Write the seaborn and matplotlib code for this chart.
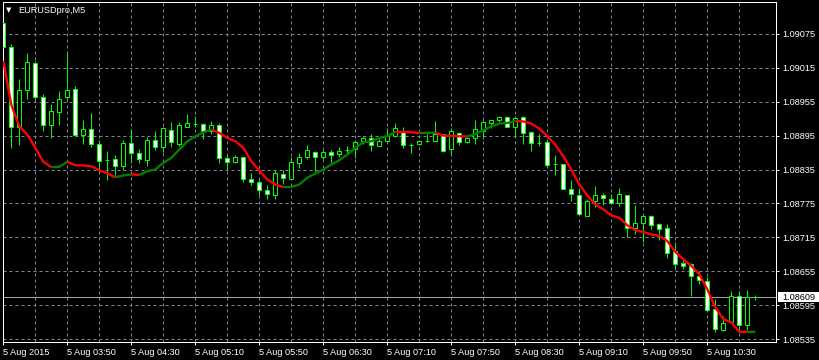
import matplotlib
matplotlib.use("Agg")
import matplotlib.pyplot as plt
import matplotlib.transforms as mtransforms
from matplotlib.patches import Rectangle
import numpy as np
import pandas as pd
import seaborn as sns

# ---------------- data (EURUSDpro, M5, 5 Aug 2015 03:10 .. 11:00) ----------------
symbol_title = "EURUSDpro,M5"

opens = [1.09094, 1.09052, 1.08910, 1.08975, 1.09023, 1.08964, 1.08913, 1.08937, 1.08964, 1.08977,
         1.08896, 1.08906, 1.08880, 1.08851, 1.08854, 1.08842, 1.08882, 1.08864, 1.08851, 1.08887,
         1.08874, 1.08905, 1.08881, 1.08911, 1.08916, 1.08916, 1.08904, 1.08914, 1.08856, 1.08848,
         1.08857, 1.08819, 1.08812, 1.08798, 1.08790, 1.08827, 1.08819, 1.08847, 1.08858, 1.08866,
         1.08857, 1.08866, 1.08863, 1.08869, 1.08872, 1.08885, 1.08891, 1.08877, 1.08885, 1.08894,
         1.08901, 1.08878, 1.08880, 1.08885, 1.08885, 1.08898, 1.08872, 1.08900, 1.08883, 1.08891,
         1.08904, 1.08917, 1.08922, 1.08928, 1.08910, 1.08928, 1.08902, 1.08882, 1.08884, 1.08844,
         1.08844, 1.08801, 1.08790, 1.08753, 1.08779, 1.08789, 1.08782, 1.08776, 1.08789, 1.08732,
         1.08741, 1.08752, 1.08738, 1.08732, 1.08690, 1.08669, 1.08667, 1.08646, 1.08638, 1.08588,
         1.08551, 1.08565, 1.08611, 1.08559, 1.08610]
highs = [1.09100, 1.09057, 1.08996, 1.09042, 1.09027, 1.08969, 1.08951, 1.08974, 1.09042, 1.08983,
         1.08922, 1.08935, 1.08888, 1.08867, 1.08861, 1.08887, 1.08906, 1.08871, 1.08892, 1.08904,
         1.08910, 1.08919, 1.08919, 1.08934, 1.08930, 1.08917, 1.08920, 1.08917, 1.08861, 1.08860,
         1.08858, 1.08828, 1.08817, 1.08808, 1.08835, 1.08834, 1.08858, 1.08864, 1.08878, 1.08867,
         1.08870, 1.08869, 1.08874, 1.08877, 1.08888, 1.08895, 1.08897, 1.08889, 1.08909, 1.08918,
         1.08911, 1.08882, 1.08888, 1.08897, 1.08921, 1.08898, 1.08909, 1.08901, 1.08892, 1.08923,
         1.08923, 1.08923, 1.08929, 1.08929, 1.08929, 1.08929, 1.08904, 1.08897, 1.08889, 1.08860,
         1.08845, 1.08817, 1.08803, 1.08782, 1.08805, 1.08793, 1.08792, 1.08803, 1.08790, 1.08773,
         1.08752, 1.08754, 1.08740, 1.08738, 1.08706, 1.08674, 1.08670, 1.08656, 1.08644, 1.08606,
         1.08576, 1.08620, 1.08620, 1.08622, 1.08613]
lows = [1.08994, 1.08873, 1.08879, 1.08959, 1.08959, 1.08904, 1.08891, 1.08913, 1.08959, 1.08895,
        1.08881, 1.08874, 1.08830, 1.08817, 1.08826, 1.08835, 1.08847, 1.08846, 1.08841, 1.08870,
        1.08866, 1.08875, 1.08876, 1.08910, 1.08911, 1.08889, 1.08898, 1.08846, 1.08835, 1.08846,
        1.08812, 1.08807, 1.08790, 1.08783, 1.08782, 1.08810, 1.08816, 1.08838, 1.08854, 1.08832,
        1.08853, 1.08847, 1.08857, 1.08864, 1.08856, 1.08881, 1.08867, 1.08876, 1.08883, 1.08893,
        1.08873, 1.08864, 1.08879, 1.08883, 1.08883, 1.08866, 1.08862, 1.08879, 1.08882, 1.08880,
        1.08889, 1.08909, 1.08919, 1.08910, 1.08895, 1.08880, 1.08867, 1.08876, 1.08840, 1.08826,
        1.08800, 1.08779, 1.08756, 1.08752, 1.08769, 1.08773, 1.08774, 1.08770, 1.08716, 1.08720,
        1.08706, 1.08729, 1.08711, 1.08679, 1.08660, 1.08659, 1.08611, 1.08632, 1.08584, 1.08548,
        1.08550, 1.08564, 1.08553, 1.08551, 1.08604]
closes = [1.09052, 1.08910, 1.08976, 1.09026, 1.08964, 1.08913, 1.08939, 1.08960, 1.08976, 1.08896,
          1.08907, 1.08880, 1.08850, 1.08851, 1.08842, 1.08882, 1.08864, 1.08854, 1.08888, 1.08874,
          1.08909, 1.08883, 1.08913, 1.08917, 1.08916, 1.08903, 1.08913, 1.08856, 1.08848, 1.08857,
          1.08819, 1.08812, 1.08798, 1.08792, 1.08828, 1.08820, 1.08849, 1.08857, 1.08870, 1.08857,
          1.08866, 1.08860, 1.08867, 1.08869, 1.08884, 1.08891, 1.08878, 1.08886, 1.08895, 1.08909,
          1.08878, 1.08878, 1.08886, 1.08885, 1.08898, 1.08867, 1.08904, 1.08883, 1.08891, 1.08907,
          1.08919, 1.08922, 1.08928, 1.08911, 1.08926, 1.08900, 1.08882, 1.08882, 1.08843, 1.08844,
          1.08801, 1.08792, 1.08757, 1.08779, 1.08789, 1.08785, 1.08775, 1.08791, 1.08732, 1.08740,
          1.08752, 1.08737, 1.08730, 1.08688, 1.08667, 1.08664, 1.08646, 1.08640, 1.08586, 1.08553,
          1.08563, 1.08611, 1.08560, 1.08610, 1.08609]
ma_line = [1.090274, 1.089497, 1.089114, 1.088968, 1.088733, 1.088486, 1.088391, 1.088398, 1.088486, 1.088426,
           1.088421, 1.088408, 1.088338, 1.088279, 1.088214, 1.088244, 1.088262, 1.088253, 1.088320, 1.088350,
           1.088468, 1.088556, 1.088703, 1.088849, 1.088938, 1.089008, 1.089056, 1.088998, 1.088909, 1.088849,
           1.088733, 1.088496, 1.088332, 1.088174, 1.088085, 1.088038, 1.088041, 1.088085, 1.088204, 1.088279,
           1.088350, 1.088438, 1.088514, 1.088615, 1.088733, 1.088832, 1.088849, 1.088909, 1.088938, 1.089015,
           1.089014, 1.089010, 1.088994, 1.088998, 1.089001, 1.088950, 1.088946, 1.088938, 1.088936, 1.088980,
           1.089044, 1.089114, 1.089162, 1.089174, 1.089206, 1.089201, 1.089162, 1.089074, 1.088938, 1.088791,
           1.088585, 1.088350, 1.088085, 1.087891, 1.087732, 1.087644, 1.087538, 1.087498, 1.087362, 1.087279,
           1.087244, 1.087203, 1.087173, 1.087085, 1.086891, 1.086762, 1.086644, 1.086497, 1.086232, 1.085909,
           1.085703, 1.085645, 1.085479, 1.085477, 1.085479]

time_labels = ["5 Aug 2015", "5 Aug 03:50", "5 Aug 04:30", "5 Aug 05:10", "5 Aug 05:50",
               "5 Aug 06:30", "5 Aug 07:10", "5 Aug 07:50", "5 Aug 08:30", "5 Aug 09:10",
               "5 Aug 09:50", "5 Aug 10:30"]
time_label_bars = [0, 8, 16, 24, 32, 40, 48, 56, 64, 72, 80, 88]
price_levels = [1.08535, 1.08595, 1.08655, 1.08715, 1.08775, 1.08835, 1.08895, 1.08955, 1.09015, 1.09075]
current_price = 1.08609

df = pd.DataFrame({"bar": np.arange(len(opens)), "open": opens, "high": highs,
                   "low": lows, "close": closes, "ma": ma_line})

# ---------------- style ----------------
sns.set_style("dark")
plt.rcParams['font.family'] = ['Liberation Sans', 'DejaVu Sans']

W, H = 819, 360
fig = plt.figure(figsize=(W / 100, H / 100), dpi=100, facecolor="black")
ax_l, ax_r, ax_t, ax_b = 2.7, 776.3, 2.3, 342.3
ax = fig.add_axes([ax_l / W, (H - ax_b) / H, (ax_r - ax_l) / W, (ax_b - ax_t) / H])
ax.set_facecolor("black")

bar_px = 8.0
x0_px = 3.3
ax.set_xlim((ax_l - x0_px) / bar_px, (ax_r - x0_px) / bar_px)
ymin, ymax = 1.085292, 1.091309
ax.set_ylim(ymin, ymax)
ppx = (ymax - ymin) / (ax_b - ax_t)

px = 0.72  # one pixel in points
grid_col = "#7b8896"

# grid
for lvl in price_levels:
    ax.axhline(lvl, color=grid_col, lw=px, ls=(0, (3, 3)), zorder=1)
for b in range(4, len(df), 4):
    ax.axvline(b, color=grid_col, lw=px, ls=(0, (3, 3)), zorder=1)

# current price line
ax.axhline(current_price, color="#a6a6a6", lw=px, zorder=1.5)

# candles
lime = "#00ff00"
ax.vlines(df["bar"], df["low"], df["high"], color=lime, lw=px, zorder=2)
body_bottom = np.minimum(df["open"], df["close"])
body_height = np.abs(df["close"] - df["open"])
face = ["white" if c < o else "black" for o, c in zip(df["open"], df["close"])]
ax.bar(df["bar"], body_height, bottom=body_bottom, width=0.5, color=face,
       edgecolor=lime, linewidth=px, zorder=3)

# MA line, coloured by direction
ma = df["ma"].to_numpy()
seg_col = ["red"] + ["#008000" if ma[i] > ma[i - 1] else "#ff0000" for i in range(1, len(ma))]
runs = []
start = 1
for i in range(2, len(ma) + 1):
    if i == len(ma) or seg_col[i] != seg_col[start]:
        runs.append((start - 1, i - 1, seg_col[start]))
        start = i
for a, b, col in runs:
    sub = df.iloc[a:b + 1]
    sns.lineplot(x=sub["bar"].to_numpy(), y=sub["ma"].to_numpy(), color=col, lw=1.7,
                 ax=ax, zorder=4, solid_capstyle="butt", estimator=None, sort=False)

# spines
for s in ax.spines.values():
    s.set_color("white")
    s.set_linewidth(px)
    s.set_visible(True)

# x ticks
ax.set_xticks(time_label_bars)
ax.set_xticklabels(time_labels)
ax.tick_params(axis="x", colors="white", length=3 * px, width=px, direction="out",
               pad=2, labelsize=6.6, bottom=True)
for lbl in ax.get_xticklabels():
    lbl.set_ha("left")
    lbl.set_color("white")

# y ticks on right
ax.yaxis.tick_right()
ax.set_yticks(price_levels)
ax.set_yticklabels([f"{p:.5f}" for p in price_levels])
ax.tick_params(axis="y", colors="white", length=3 * px, width=px, direction="out",
               pad=2.5, labelsize=6.6, right=True, left=False)
ax.grid(False)
ax.set_xlabel("")
ax.set_ylabel("")

# current price box
trans = mtransforms.blended_transform_factory(ax.transAxes, ax.transData)
box_x = (778 - ax_l) / (ax_r - ax_l)
box_w = 45 / (ax_r - ax_l)
ax.add_patch(Rectangle((box_x, current_price - 5.2 * ppx), box_w, 10.4 * ppx,
                       transform=trans, facecolor="white", edgecolor="none",
                       clip_on=False, zorder=10))
ax.text((782.3 - ax_l) / (ax_r - ax_l), current_price, f"{current_price:.5f}",
        transform=trans, ha="left", va="center", fontsize=6.6, color="black",
        zorder=11, clip_on=False)

# title
ax.text((6 - ax_l) / (ax_r - ax_l), 1 - (10.5 - ax_t) / (ax_b - ax_t), "▼",
        transform=ax.transAxes, ha="left", va="center", fontsize=5, color="white",
        family=["DejaVu Sans"], zorder=12)
ax.text((18 - ax_l) / (ax_r - ax_l), 1 - (10.7 - ax_t) / (ax_b - ax_t), symbol_title,
        transform=ax.transAxes, ha="left", va="center", fontsize=6.6, color="white", zorder=12)

fig.savefig("out.png", dpi=100, facecolor="black")
